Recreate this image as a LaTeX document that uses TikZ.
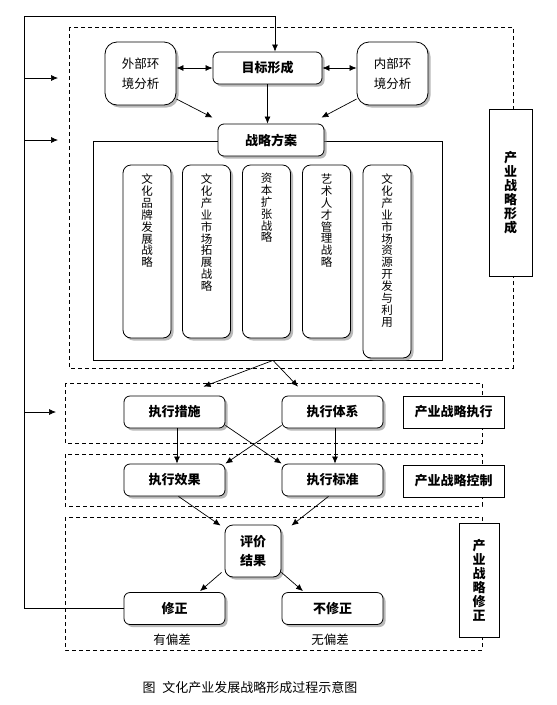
\documentclass[tikz,border=0pt]{standalone}
\usepackage{fontspec}
\setmainfont{Noto Sans CJK SC}
\usetikzlibrary{shadows,arrows.meta,calc}
\tikzset{
  dbox/.style={draw, dashed, dash pattern=on 4pt off 3pt, line width=0.8pt},
  rbox/.style={draw, fill=white, rounded corners=6pt, line width=0.8pt,
    drop shadow={shadow xshift=2.5pt, shadow yshift=-2.5pt, opacity=0.55},
    align=center, inner sep=0pt},
  wbox/.style={rbox, minimum width=101pt, minimum height=32pt, font=\fontsize{13}{19}\selectfont\bfseries},
  colbox/.style={rbox, rounded corners=8pt, minimum width=48pt},
  vtext/.style={align=center, inner sep=0pt, font=\fontsize{11.5}{11.9}\selectfont},
  lbox/.style={draw, fill=white, line width=0.8pt, align=center, inner sep=0pt,
    font=\fontsize{13}{14}\selectfont\bfseries},
  arr/.style={line width=0.7pt, -{Latex[length=7pt,width=6pt]}},
  arrb/.style={line width=0.7pt, {Latex[length=7pt,width=6pt]}-{Latex[length=7pt,width=6pt]}},
}
\begin{document}
\begin{tikzpicture}[x=1pt, y=-1pt, font=\fontsize{12.5}{20}\selectfont]
\useasboundingbox[fill=white] (0,0) rectangle (557,705);

% dashed regions
\draw[dbox] (69,27) rectangle (513,368);
\draw[dbox] (65,383) rectangle (482,443);
\draw[dbox] (65,454) rectangle (482,506);
\draw[dbox] (65,517) rectangle (482,650);

% formation stage
\node[rbox, rounded corners=12pt, minimum width=71pt, minimum height=63pt] (ext) at (140.5,73.5) {外部环\\境分析};
\node[rbox, minimum width=109pt, minimum height=32pt, font=\fontsize{13}{19}\selectfont\bfseries] (goal) at (267.5,68) {目标形成};
\node[rbox, rounded corners=12pt, minimum width=71pt, minimum height=63pt] (int) at (392.5,73.5) {内部环\\境分析};

\node[draw, line width=0.8pt, minimum width=349pt, minimum height=219pt, inner sep=0pt] (big) at (267.5,250.5) {};
\node[rbox, minimum width=106pt, minimum height=32pt, font=\fontsize{13}{19}\selectfont\bfseries] (plan) at (271,140) {战略方案};

\node[colbox, minimum height=173pt] (s1) at (147,251.5) {};
\node[colbox, minimum height=173pt] (s2) at (206.5,251.5) {};
\node[colbox, minimum height=173pt] (s3) at (266.5,251.5) {};
\node[colbox, minimum height=173pt] (s4) at (326.5,251.5) {};
\node[colbox, minimum height=193pt] (s5) at (387,261.5) {};
\node[vtext, anchor=north] (t1) at ([yshift=-9pt]s1.north) {文\\化\\品\\牌\\发\\展\\战\\略};
\node[vtext, anchor=north] (t2) at ([yshift=-9pt]s2.north) {文\\化\\产\\业\\市\\场\\拓\\展\\战\\略};
\node[vtext, anchor=north] (t3) at ([yshift=-8pt]s3.north) {资\\本\\扩\\张\\战\\略};
\node[vtext, anchor=north] (t4) at ([yshift=-9pt]s4.north) {艺\\术\\人\\才\\管\\理\\战\\略};
\node[vtext, anchor=north] (t5) at ([yshift=-9pt]s5.north) {文\\化\\产\\业\\市\\场\\资\\源\\开\\发\\与\\利\\用};

% stage labels
\node[lbox, minimum width=43pt, minimum height=167pt] (lform) at (510.5,192.5) {产\\业\\战\\略\\形\\成};
\node[lbox, minimum width=101pt, minimum height=32pt] (lexec) at (453.5,412) {产业战略执行};
\node[lbox, minimum width=101pt, minimum height=32pt] (lctrl) at (453.5,481) {产业战略控制};
\node[lbox, minimum width=40pt, minimum height=114pt] (lfix) at (479,580) {产\\业\\战\\略\\修\\正};

% execution / control
\node[wbox] (e1) at (174.5,412) {执行措施};
\node[wbox] (e2) at (332.5,412) {执行体系};
\node[wbox] (f1) at (174.5,480) {执行效果};
\node[wbox] (f2) at (332.5,480) {执行标准};

% evaluation
\node[rbox, rounded corners=8pt, minimum width=56pt, minimum height=52pt, font=\fontsize{13}{19}\selectfont\bfseries] (ev) at (253,551) {评价\\结果};
\node[wbox] (fix) at (174.5,608.5) {修正};
\node[wbox] (nofix) at (332.5,608.5) {不修正};
\node (yp) at (172,640) {有偏差};
\node (wp) at (330,640) {无偏差};

\node[font=\fontsize{13}{20}\selectfont] (cap) at (250,688) {图\hspace{7pt}文化产业发展战略形成过程示意图};

% connectors in formation stage
\draw[arrb] (ext.east |- goal.west) -- (goal.west);
\draw[arrb] (goal.east) -- (int.west |- goal.east);
\draw[arr] (goal.south) -- (goal.south |- plan.north);
\draw[arr] ([yshift=-25.5pt]ext.east) -- ([xshift=-5pt,yshift=6pt]plan.north west);
\draw[arr] ([yshift=-25.5pt]int.west) -- ([xshift=-3pt,yshift=6pt]plan.north east);

% to execution
\draw[arr] ([xshift=5.5pt]big.south) -- ([xshift=29pt,yshift=9pt]e1.north);
\draw[arr] ([xshift=5.5pt]big.south) -- ([xshift=-34.5pt,yshift=9pt]e2.north);

\draw[arr] ([xshift=2.5pt]e1.south) -- ([xshift=2.5pt]f1.north);
\draw[arr] ([xshift=2.5pt]e2.south) -- ([xshift=2.5pt]f2.north);
\draw[arr] ([yshift=3pt]e1.south east) -- (f2.north west);
\draw[arr] ([yshift=3pt]e2.south west) -- (f1.north east);

% to evaluation
\draw[arr] ([xshift=4pt]f1.south) -- ([xshift=-4pt,yshift=-1pt]ev.north west);
\draw[arr] ([xshift=-4pt]f2.south) -- ([xshift=10pt,yshift=-1pt]ev.north east);
\draw[arr] ([xshift=-3pt,yshift=5pt]ev.south west) -- ([xshift=25.5pt,yshift=1pt]fix.north);
\draw[arr] ([xshift=0pt,yshift=5pt]ev.south east) -- ([xshift=-29.5pt,yshift=1pt]nofix.north);

% feedback loop
\coordinate (fbb) at (24,608.5);
\coordinate (fbt) at (24,16);
\draw[arr] (fix.west) -- (fbb) -- (fbt) -| ([xshift=7.5pt]goal.north);
\coordinate (a1s) at (24,78);  \coordinate (a1e) at (58,78);
\coordinate (a2s) at (24,140); \coordinate (a2e) at (58,140);
\coordinate (a3s) at (24,412); \coordinate (a3e) at (56,412);
\draw[arr] (a1s) -- (a1e);
\draw[arr] (a2s) -- (a2e);
\draw[arr] (a3s) -- (a3e);
\end{tikzpicture}
\end{document}
